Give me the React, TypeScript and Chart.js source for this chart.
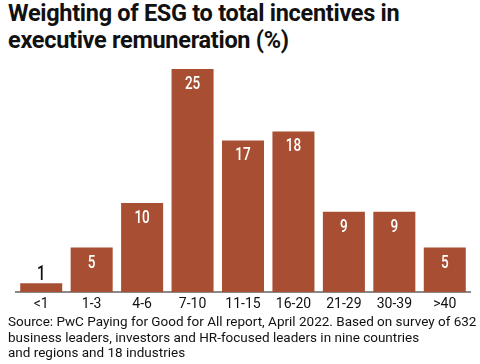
import React, { useEffect, useRef } from "react";
import { Chart, registerables } from "chart.js";

Chart.register(...registerables);

const categories = ["<1", "1-3", "4-6", "7-10", "11-15", "16-20", "21-29", "30-39", ">40"];
const values = [1, 5, 10, 25, 17, 18, 9, 9, 5];

const titleLines = ["Weighting of ESG to total incentives in", "executive remuneration (%)"];
const sourceLines = [
  "Source: PwC Paying for Good for All report, April 2022. Based on survey of 632",
  "business leaders, investors and HR-focused leaders in nine countries",
  "and regions and 18 industries",
];

const BAR = "#a84f33";
const FONT = "Roboto, sans-serif";

const valueLabels = {
  id: "valueLabels",
  afterDatasetsDraw(chart: any) {
    const ctx = chart.ctx;
    const meta = chart.getDatasetMeta(0);
    meta.data.forEach((el: any, i: number) => {
      const v = values[i];
      const h = el.base - el.y;
      ctx.save();
      ctx.textAlign = "center";
      ctx.textBaseline = "alphabetic";
      if (h < 24) {
        ctx.font = `500 20px ${FONT}`;
        ctx.fillStyle = "#111";
        ctx.translate(el.x, el.y - 3);
      } else {
        ctx.font = `500 18px ${FONT}`;
        ctx.fillStyle = "#fff";
        ctx.translate(el.x, el.y + 20);
      }
      ctx.scale(0.75, 1);
      ctx.fillText(String(v), 0, 0);
      ctx.restore();
    });
  },
};

export default function App() {
  const ref = useRef<HTMLCanvasElement>(null);
  useEffect(() => {
    const chart = new Chart(ref.current!, {
      type: "bar",
      data: {
        labels: categories,
        datasets: [
          {
            data: values,
            backgroundColor: BAR,
            barPercentage: 0.833,
            categoryPercentage: 1,
          },
        ],
      },
      options: {
        animation: false,
        responsive: false,
        maintainAspectRatio: false,
        layout: { padding: { left: 16, right: 10, top: 0, bottom: 0 } },
        plugins: { legend: { display: false }, tooltip: { enabled: false } },
        scales: {
          x: {
            grid: { display: false, drawTicks: false },
            border: { color: "#8a8a8a", width: 2 },
            ticks: { color: "#111", font: { family: FONT, size: 14 }, padding: 4, maxRotation: 0 },
          },
          y: { display: false, min: 0, max: 26 },
        },
      },
      plugins: [valueLabels],
    });
    return () => chart.destroy();
  }, []);

  return (
    <div style={{ position: "absolute", left: 0, top: 0, width: 480, height: 364, background: "#fff", overflow: "hidden" }}>
      <div
        style={{
          position: "absolute",
          left: 8,
          top: 0,
          fontFamily: FONT,
          fontWeight: 700,
          fontSize: 23.5,
          lineHeight: "27px",
          color: "#111",
          letterSpacing: -0.3,
          whiteSpace: "nowrap",
        }}
      >
        {titleLines.map((l, i) => (
          <div key={i}>{l}</div>
        ))}
      </div>
      <canvas ref={ref} width={480} height={257} style={{ position: "absolute", left: 0, top: 60, width: 480, height: 257 }} />
      <div
        style={{
          position: "absolute",
          left: 8,
          top: 314,
          fontFamily: FONT,
          fontSize: 13.5,
          lineHeight: "15.5px",
          color: "#111",
          letterSpacing: 0,
          whiteSpace: "nowrap",
        }}
      >
        {sourceLines.map((l, i) => (
          <div key={i}>{l}</div>
        ))}
      </div>
    </div>
  );
}
